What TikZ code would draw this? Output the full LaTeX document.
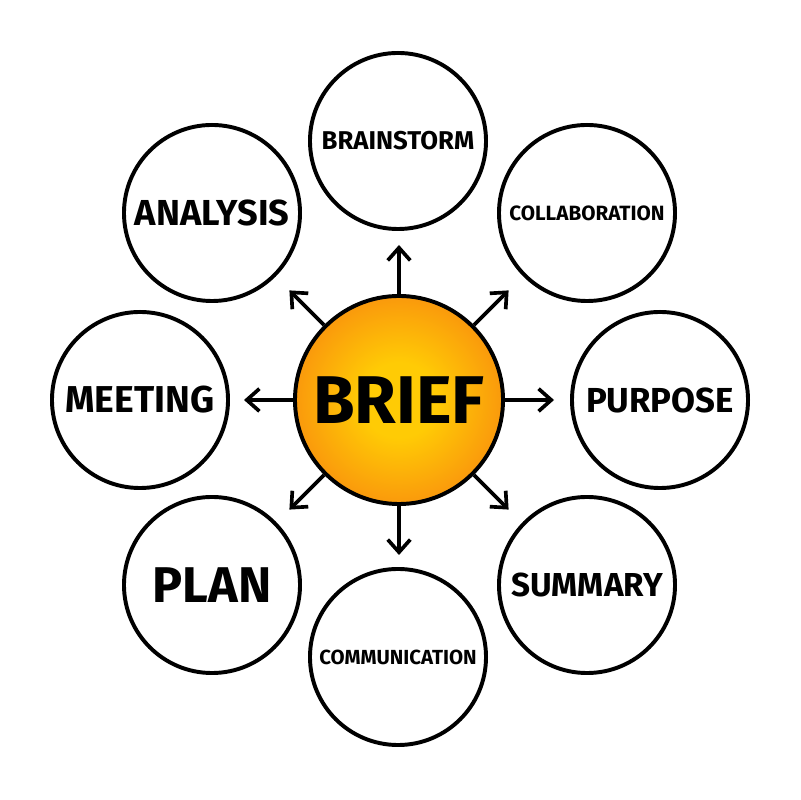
\documentclass[tikz,border=0pt]{standalone}
\usepackage{fontspec}
\setmainfont{Fira Sans}
\usetikzlibrary{arrows.meta}

\definecolor{briefin}{HTML}{FFCB05}
\definecolor{briefout}{HTML}{FA990C}
\pgfdeclareradialshading{briefglow}{\pgfpoint{0bp}{0bp}}{color(0bp)=(briefin); color(9bp)=(briefin); color(25bp)=(briefout); color(50bp)=(briefout)}

\tikzset{
  every idea/.style={circle, draw, line width=2.8pt, inner sep=0pt, minimum size=4.4cm},
  hub/.style={circle, draw, line width=2.8pt, inner sep=0pt, minimum size=5.2cm, shading=briefglow},
}

\begin{document}
\begin{tikzpicture}[x=0.025cm, y=0.025cm, >={Straight Barb[length=9pt,width=16pt]}]

\useasboundingbox (0,0) rectangle (800,800);

\node [hub, font=\fontsize{48}{48}\selectfont\bfseries] (brief) at (399,400) {BRIEF};

\foreach \n/\t/\x/\y/\s in {brainstorm/BRAINSTORM/398/659/18.3,
    collaboration/COLLABORATION/587/587/14.7,
    purpose/PURPOSE/660/400/24.7,
    summary/SUMMARY/587/215/23.6,
    communication/COMMUNICATION/398/143/14.5,
    plan/PLAN/212/215/35.7,
    meeting/MEETING/140/400/26.6,
    analysis/ANALYSIS/212/587/25.7}
  \node [every idea/.try, font=\fontsize{\s}{\s}\selectfont\bfseries] (\n) at (\x,\y) {\t};

\foreach \a in {0,45,...,315}
{
  \coordinate (tip-\a) at ([shift={(\a:155)}]brief.center);
  \draw [->, line width=2.6pt] (brief.\a) -- (tip-\a);
}

\end{tikzpicture}
\end{document}
